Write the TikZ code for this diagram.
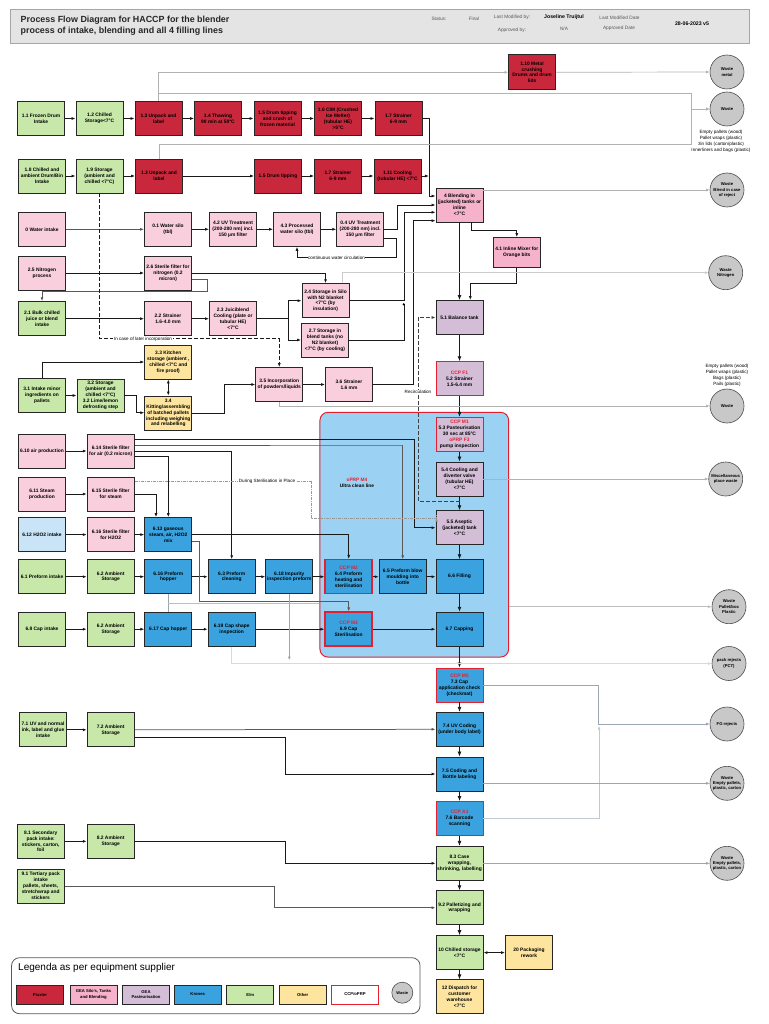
\documentclass[tikz,border=0pt]{standalone}
\usepackage{fontspec}
\setmainfont{Liberation Sans}
\usetikzlibrary{arrows.meta, positioning, calc}
\definecolor{ccpred}{HTML}{E3202F}
\definecolor{fluxred}{HTML}{C9283C}
\definecolor{softpink}{HTML}{F9CFDD}
\definecolor{geapink}{HTML}{F5B2CA}
\definecolor{gealilac}{HTML}{D3BDD7}
\definecolor{kroblue}{HTML}{3AA3DF}
\definecolor{paleblue}{HTML}{C9E4F6}
\definecolor{regionblue}{HTML}{9BD2F4}
\definecolor{elmgreen}{HTML}{C8E8AA}
\definecolor{othyellow}{HTML}{FEE59F}
\definecolor{headgrey}{HTML}{E4E4E4}
\definecolor{circgrey}{HTML}{C8C8C8}
\definecolor{lineblue}{HTML}{9AA6B4}
\newcommand{\ccptxt}[1]{\textcolor{ccpred}{#1}}

\begin{document}
\begin{tikzpicture}[x=1pt,y=-1pt,>={Latex[length=4pt,width=3pt]}]
    \tikzset{
        box/.style={draw=black!85,line width=.9pt,minimum width=47pt,minimum height=34pt,inner sep=0pt,
            align=center,font=\fontsize{4.9}{5.9}\selectfont\bfseries},
        flux/.style={box,fill=fluxred},
        silo/.style={box,fill=softpink},
        gea/.style={box,fill=geapink},
        past/.style={box,fill=gealilac},
        krones/.style={box,fill=kroblue},
        elm/.style={box,fill=elmgreen},
        other/.style={box,fill=othyellow},
        ccpedge/.style={draw=ccpred},
        ccpthick/.style={draw=ccpred,line width=1.5pt},
        bin/.style={circle,draw=black!70,line width=.6pt,fill=circgrey,minimum size=34pt,inner sep=0pt,
            align=center,font=\fontsize{4.2}{5.2}\selectfont\bfseries},
        note/.style={inner sep=.5pt,align=center,font=\fontsize{4.6}{5.9}\selectfont},
        head/.style={inner sep=0pt,text=black!65,font=\fontsize{4.8}{6}\selectfont},
        flow/.style={->,draw=black!90,line width=.75pt},
        mainflow/.style={flow,line width=.8pt,>={Latex[length=5pt,width=4pt]}},
        flowgrey/.style={flow,draw=black!65},
        scrap/.style={->,draw=black!30,line width=.7pt,>={Latex[length=3.5pt,width=3pt,fill=black!30]}},
        scrapblue/.style={scrap,draw=lineblue},
        later/.style={flow,dashed,dash pattern=on 4pt off 2pt},
        legendbox/.style={minimum height=19pt,font=\fontsize{4.2}{5.6}\selectfont\bfseries}
    }
    \useasboundingbox (0,0) rectangle (768,1024);

    % Header
    \node[draw=black!35,line width=.8pt,fill=headgrey,minimum width=739pt,minimum height=33.5pt,inner sep=0pt] (header) at (380,26.3) {};
    \node[anchor=west,inner sep=0pt,align=left,font=\fontsize{8.9}{10.5}\selectfont\bfseries,text=black!85] (title) at (20.5,25.8) {Process Flow Diagram for HACCP for the blender\\process of intake, blending and all 4 filling lines};
    \node[head] (hstatus) at (439,19) {Status:};
    \node[head] (hfinal) at (474,18.5) {Final};
    \node[head] (hmod) at (512,17.5) {Last Modified by:};
    \node[head,text=black,font=\fontsize{5.2}{6}\selectfont\bfseries] (hname) at (564,17) {Joseline Truijtul};
    \node[head] (hdate) at (619.5,17.5) {Last Modified Date};
    \node[head] (happ) at (512,30) {Approved by:};
    \node[head] (hna) at (564,29) {N/A};
    \node[head] (happd) at (619,28.5) {Approved Date};
    \node[head,text=black,font=\fontsize{5.2}{6}\selectfont\bfseries] (hver) at (692,24) {28-06-2023 v5};

    % Ultra clean region
    \node[draw=ccpred,line width=1pt,fill=regionblue,rounded corners=8pt,minimum width=188.7pt,minimum height=244.7pt,inner sep=0pt] (ultra) at (414.3,534.7) {};
    \node[note,font=\fontsize{4.8}{5.9}\selectfont\bfseries] (ultralbl) at (357,483) {\ccptxt{oPRP M4}\\Ultra clean line};

    % Fruit lines
    \node[elm] (n11) at (41,118.5) {1.1 Frozen Drum\\Intake};
    \node[elm] (n12) at (99.5,118.5) {1.2 Chilled\\Storage<7°C};
    \node[flux] (n13) at (158.5,118.5) {1.3 Unpack and\\label};
    \node[flux] (n14) at (218,118.5) {1.4 Thawing\\90 min at 50°C};
    \node[flux] (n15) at (277.5,118.5) {1.5 Drum tipping\\and crush of\\frozen material};
    \node[flux] (n16) at (338,118.5) {1.6 CIM (Crushed\\Ice Melter)\\(tubular HE)\\>5°C};
    \node[flux] (n17) at (398.5,118.5) {1.7 Strainer\\6-9 mm};
    \node[flux,minimum height=34.7pt] (n110) at (532,72.3) {1.10 Metal\\crushing\\Drums and drum\\lids};

    \node[elm] (n18) at (42,176) {1.8 Chilled and\\ambient Drum/Bin\\Intake};
    \node[elm] (n19) at (99.5,176) {1.9 Storage\\(ambient and\\chilled <7°C)};
    \node[flux] (n13b) at (159,176) {1.3 Unpack and\\label};
    \node[flux] (n15b) at (278,176) {1.5 Drum tipping};
    \node[flux] (n17b) at (338,176) {1.7 Strainer\\6-9 mm};
    \node[flux] (n111) at (397.5,176) {1.11 Cooling\\(tubular HE) <7°C};

    % Water, nitrogen, juice
    \node[silo] (n0) at (42,229.3) {0 Water intake};
    \node[silo] (n01) at (168,229.3) {0.1 Water silo\\(tbl)};
    \node[silo] (n42) at (233,229.3) {4.2 UV Treatment\\(200-280 nm) incl.\\150 µm filter};
    \node[silo] (n43) at (297,229.3) {4.3 Processed\\water silo (tbl)};
    \node[silo] (n04) at (360.3,229.3) {0.4 UV Treatment\\(200-280 nm) incl.\\150 µm filter};
    \node[silo] (n25) at (42,273) {2.5 Nitrogen\\process};
    \node[silo] (n26) at (168,273) {2.6 Sterile filter for\\nitrogen (0.2\\micron)};
    \node[elm] (n21) at (42,318.7) {2.1 Bulk chilled\\juice or blend\\intake};
    \node[silo] (n22) at (168,318.7) {2.2 Strainer\\1.6-4.0 mm};
    \node[silo] (n23) at (233,318.7) {2.3 Juiciblend\\Cooling (plate or\\tubular HE)\\<7°C};
    \node[silo] (n24) at (325.5,300.7) {2.4 Storage in Silo\\with N2 blanket\\<7°C (by\\insulation)};
    \node[silo] (n27) at (325,340) {2.7 Storage in\\blend tanks (no\\N2 blanket)\\<7°C (by cooling)};

    % Minor ingredients
    \node[other] (n33) at (168.3,362) {3.3 Kitchen\\storage (ambient ,\\chilled <7°C and\\fire proof)};
    \node[elm] (n31) at (42,395.5) {3.1 Intake minor\\ingredients on\\pallets};
    \node[elm,minimum height=33pt] (n32) at (100.5,395.5) {3.2 Storage\\(ambient and\\chilled <7°C)\\3.2 Lime/lemon\\defrosting step};
    \node[other] (n34) at (168.3,413) {3.4\\Kitting/assembling\\of batched pallets\\including weighing\\and relabelling};
    \node[silo] (n35) at (279.3,384.5) {3.5 Incorporation\\of powders/liquids};
    \node[silo] (n36) at (349,384.5) {3.6 Strainer\\1.6 mm};

    % Blending and pasteurisation
    \node[gea] (n4) at (459.5,205) {4 Blending in\\(jacketed) tanks or\\inline\\<7°C};
    \node[gea,minimum height=29.5pt] (n41) at (516.8,252.3) {4.1 Inline Mixer for\\Orange bits};
    \node[past] (n51) at (459.5,317.5) {5.1 Balance tank};
    \node[past,ccpedge] (nF1) at (459.5,378.7) {\ccptxt{CCP F1}\\5.2 Strainer\\1.5-6.4 mm};
    \node[past,ccpedge] (n53) at (459.5,434.3) {\ccptxt{CCP M1}\\5.3 Pasteurisation\\30 sec at 85°C\\\ccptxt{oPRP F3}\\pump inspection};
    \node[past] (n54) at (459.5,479) {5.4 Cooling and\\diverter valve\\(tubular HE)\\<7°C};
    \node[past] (n55) at (459.5,527.7) {5.5 Aseptic\\(jacketed) tank\\<7°C};

    % Sterile media
    \node[silo] (n610) at (42,451) {6.10 air production};
    \node[silo] (n614) at (110.7,451) {6.14 Sterile filter\\for air (0.2 micron)};
    \node[silo] (n611) at (42,494) {6.11 Steam\\production};
    \node[silo] (n615) at (110.7,494) {6.15 Sterile filter\\for steam};
    \node[box,fill=paleblue] (n612) at (42,534.6) {6.12 H2O2 intake};
    \node[silo] (n616) at (110.7,534.6) {6.16 Sterile filter\\for H2O2};
    \node[krones] (n613) at (168.3,534.6) {6.13 gaseous\\steam, air, H2O2\\mix};

    % Filling line
    \node[elm] (n61) at (42,576.7) {6.1 Preform intake};
    \node[elm] (n62) at (110.7,576.7) {6.2 Ambient\\Storage};
    \node[krones] (n616b) at (168.3,576.7) {6.16 Preform\\hopper};
    \node[krones] (n63) at (231.7,576.7) {6.3 Preform\\cleaning};
    \node[krones] (n618) at (289.3,576.7) {6.18 Impurity\\inspection preform};
    \node[krones,ccpthick] (n64) at (348.7,576.7) {\ccptxt{CCP M2}\\6.4 Preform\\heating and\\sterilisation};
    \node[krones] (n65) at (402.7,576.7) {6.5 Preform blow\\moulding into\\bottle};
    \node[krones] (n66) at (459.5,576.7) {6.6 Filling};
    \node[elm] (n68) at (42,629.2) {6.8 Cap intake};
    \node[elm] (n62b) at (110.7,629.2) {6.2 Ambient\\Storage};
    \node[krones] (n617) at (168.3,629.2) {6.17 Cap hopper};
    \node[krones] (n619) at (231.7,629.2) {6.19 Cap shape\\inspection};
    \node[krones,ccpthick] (n69) at (348.7,629.2) {\ccptxt{CCP M3}\\6.9 Cap\\Sterilisation};
    \node[krones] (n67) at (459.5,629.2) {6.7 Capping};

    % Packaging
    \node[krones,ccpedge] (n73) at (459.5,685) {\ccptxt{CCP M5}\\7.3 Cap\\application check\\(checkmat)};
    \node[krones] (n74) at (459.5,729.3) {7.4 UV Coding\\(under body label)};
    \node[krones] (n75) at (459.5,774) {7.5 Coding and\\Bottle labeling};
    \node[krones,ccpedge] (n76) at (459.5,818.5) {\ccptxt{CCP A1}\\7.6 Barcode\\scanning};
    \node[elm] (n71) at (43,729.8) {7.1 UV and normal\\ink, label and glue\\intake};
    \node[elm] (n72) at (110.7,729.8) {7.2 Ambient\\Storage};
    \node[elm] (n81) at (40.7,841.3) {8.1 Secondary\\pack intake:\\stickers, carton,\\foil};
    \node[elm] (n82) at (110.7,841.3) {8.2 Ambient\\Storage};
    \node[elm] (n91) at (40.7,886) {9.1 Tertiary pack\\intake\\pallets, sheets,\\stretchwrap and\\stickers};
    \node[elm] (n83) at (459.5,863.3) {8.3 Case\\wrapping,\\shrinking, labelling};
    \node[elm] (n92) at (459.5,907.7) {9.2 Palletizing and\\wrapping};
    \node[elm] (n10) at (459.5,952.6) {10 Chilled storage\\<7°C};
    \node[other] (n20) at (529,952.6) {20 Packaging\\rework};
    \node[other] (n12end) at (459.5,996.8) {12 Dispatch for\\customer\\warehouse\\<7°C};

    % Waste bins
    \node[bin] (wmetal) at (727,72) {Waste\\metal};
    \node[bin] (wpack) at (727,109) {Waste};
    \node[bin] (wblend) at (727,190) {Waste\\Blend in case\\of reject};
    \node[bin] (wnitro) at (725.7,272.7) {Waste\\Nitrogen};
    \node[bin] (wstrain) at (727,406) {Waste};
    \node[bin] (wplace) at (725.7,479) {Miscellaneous\\place waste};
    \node[bin] (wbox) at (729,606.7) {Waste\\Pallet/box\\Plastic};
    \node[bin] (wpet) at (729,663.5) {pack rejects\\(PCT)};
    \node[bin] (wfg) at (727,724) {FG rejects};
    \node[bin] (wlabel) at (727,783.3) {Waste\\Empty pallets,\\plastic, carton};
    \node[bin] (wcase) at (727,863.3) {Waste\\Empty pallets,\\plastic, carton};
    \node[note] (wpacktxt) at (721,141) {Empty pallets (wood)\\Pallet wraps (plastic)\\3in lids (carton/plastic)\\Innerliners and bags (plastic)};
    \node[note] (wstraintxt) at (727,375) {Empty pallets (wood)\\Pallet wraps (plastic)\\Bags (plastic)\\Pails (plastic)};

    % Straight process steps
    \foreach \source/\dest in {n11/n12,n12/n13,n13/n14,n14/n15,n15/n16,n16/n17,
        n18/n19,n19/n13b,n13b/n15b,n15b/n17b,n17b/n111,
        n01/n42,n42/n43,n43/n04,n25/n26,n21/n22,n22/n23,n31/n32,n35/n36,
        n610/n614,n611/n615,n612/n616,n616/n613,
        n61/n62,n62/n616b,n616b/n63,n63/n618,n618/n64,n64/n65,n65/n66,
        n68/n62b,n62b/n617,n617/n619,n619/n69,n69/n67,
        n71/n72,n81/n82}
        \draw[flow] (\source) -- (\dest);

    % The central chain
    \foreach \source/\dest in {n4/n51,n51/nF1,nF1/n53,n53/n54,n54/n55,n55/n66,n66/n67,n67/n73,n73/n74,n74/n75,n75/n76,n76/n83,n83/n92,n92/n10,n10/n12end}
        \draw[mainflow] (\source) -- (\dest);
    \draw[flowgrey] (n0) -- (n01);
    \draw[flow,<->] (n33) -- (n34);
    \draw[flow,<->] (n10) -- (n20);

    % Into blending
    \draw[flow] (n17.east) -- ++(7,0) |- ([yshift=9pt]n4.west);
    \draw[flow] (n111.east) -- ++(7.5,0);
    \draw[flow] (n04.east) -- ++(13.5,0) |- (n4.west);
    \draw[flow] ([yshift=-9.2pt]n04.east) -- ++(12.5,0) -- ++(0,19.2) -| (n43.south);
    \draw[flow] (n24.east) -- ++(54.7,0) |- ([yshift=-7.3pt]n4.west);
    \draw[flow,-] (n27.east) -- ++(55.2,0) -- ++(0,-35.7);
    \fill (403.7,304.3) circle (1.2pt);
    \draw[flow] (n36.east) -- ++(40,0) |- ([yshift=-15.7pt]n4.west);
    \draw[flow] ([xshift=12.2pt]n4.south) -- ++(0,8) -| (n41.north);
    \draw[flow] (n41.south) -- ++(0,16.3) -| ([xshift=10.8pt]n51.north);

    % Juice and powders
    \draw[flow] (n26.east) -| (n24.north);
    \draw[flowgrey] ([yshift=-6.3pt]n26.east) -- ++(15,0) -- ++(0,12.4) -| (n21.north);
    \draw[flow] (n23.east) -- ++(31,0) |- (n24.west);
    \draw[flow] (n23.east) -- ++(31,0) |- (n27.west);
    \draw[flow] (n31.north) |- (n33.west);
    \draw[flow] (n32.east) -- ++(11.5,0) |- ([yshift=.3pt]n34.west);
    \draw[flow] (n34.east) -- ++(32,0) |- (n35.west);

    % Sterile media
    \draw[flow] ([yshift=11.7pt]n614.east) -- ++(279.3,0) |- (n55.west);
    \draw[flowgrey] ([yshift=6pt]n614.east) -- ++(268.3,0) -| (n65.north);
    \draw[flow] (n614.east) -| (n63.north);
    \draw[flow] ([yshift=-5.7pt]n614.east) -| (n613.north);
    \draw[flow] (n615.east) -| ([xshift=-12.3pt]n613.north);
    \draw[flow] (n613.east) -| (n64.north);
    \draw[flowgrey] ([yshift=-7pt]n613.east) -- ++(7,0) -- ++(0,60) -| (n69.north);

    % Packaging feeds
    \draw[flowgrey] (n72.east) -- (n74.west);
    \draw[flow] ([yshift=-7.5pt]n72.east) -- ++(150.3,0) |- (n75.west);
    \draw[flow] (n82.east) -- ++(150.3,0) |- (n83.west);
    \draw[flowgrey] (n91.east) -- ++(209.3,0) |- (n92.west);

    % Dashed routes
    \draw[later] (n19.south) |- ([yshift=28.5pt]n35.north) -- (n35.north);
    \draw[later,draw=black!75] ([yshift=8.7pt]n55.north) -- ++(-41.5,0) |- (n51.west);
    \draw[scrap,dash pattern=on 3pt off 1pt on 1pt off 1pt,draw=black!40] ([yshift=12.3pt]n615.east) -- ++(176.7,0) -- ++(0,36.3) -| ++(125.3,0);

    % Waste routes
    \draw[scrap] (n13.north) |- (n110.west);
    \draw[scrap] (n110.east) -- (wmetal.west);
    \draw[scrap] (n13.north) -- ++(0,-7.5) -- ++(533.2,0) |- (wpack.west);
    \draw[scrap] (n13b.north) -- ++(0,-14.5) -- ++(532.7,0) |- (wpack.west);
    \draw[scrap] (n4.east |- wblend) -- (wblend.west);
    \draw[scrap,draw=black!20] ([xshift=16.8pt]n24.north) |- (wnitro.west);
    \draw[scrap] (n35.south) |- (wstrain.west);
    \draw[scrap] (n54.east) -- (wplace.west);
    \coordinate (hopperjoin) at ($(n616b.south)!.5!(n617.north)$);
    \draw[scrapblue,-] (n616b.south) -- (n617.north);
    \draw[scrap,-,draw=black!25] (hopperjoin) -- (hopperjoin -| ultra.west);
    \draw[scrap,draw=black!25] (ultra.east |- wbox) -- (wbox.west);
    \draw[scrap,draw=black!15] (n619.south) |- (wpet.west);
    \draw[scrapblue] (n618.south) -- ++(0,66);
    \draw[scrapblue] (n73.east) -- ++(115,0) |- (wfg.west);
    \draw[scrapblue,draw=lineblue!60] (n76.east) -- ++(115.6,0) -- ++(0,-92.5);
    \draw[scrapblue] (n75.east |- wlabel) -- (wlabel.west);
    \draw[scrapblue] (n83.east) -- (wcase.west);

    % Annotate the routes
    \node[note,fill=white] (lblwater) at (336.5,257.5) {continuous water circulation};
    \node[note,fill=white] (lbllater) at (143,339.3) {In case of later incorporation};
    \node[note,fill=white] (lblcip) at (267,481.5) {During Sterilisation in Place};
    \node[note,fill=white] (lblrecirc) at (418,392) {Recirculation};

    % Legend
    \node[draw=black!65,line width=.8pt,rounded corners=8pt,minimum width=408.5pt,minimum height=56pt,inner sep=0pt] (legend) at (215.8,985.7) {};
    \node[anchor=west,inner sep=0pt,font=\fontsize{10}{12}\selectfont] (legendtitle) at (18,968) {Legenda as per equipment supplier};
    \foreach \name/\x/\kind/\label in {lflux/40/flux/Fluxter,lsilo/93.5/gea/{GEA Silo's, Tanks\\and Blending},lpast/146/past/{GEA\\Pasteurisation},
        lkro/197.7/krones/Krones,lelm/250.3/elm/Elm,loth/302.7/other/Other}
        \node[\kind,legendbox] (\name) at (\x,994.5) {\label};
    \node[box,legendbox,ccpedge,fill=white] (lccp) at (355,994.5) {CCP/oPRP};
    \node[bin,minimum size=21pt,font=\fontsize{4}{5}\selectfont\bfseries] (lwaste) at (402.3,992.7) {Waste};
\end{tikzpicture}
\end{document}
